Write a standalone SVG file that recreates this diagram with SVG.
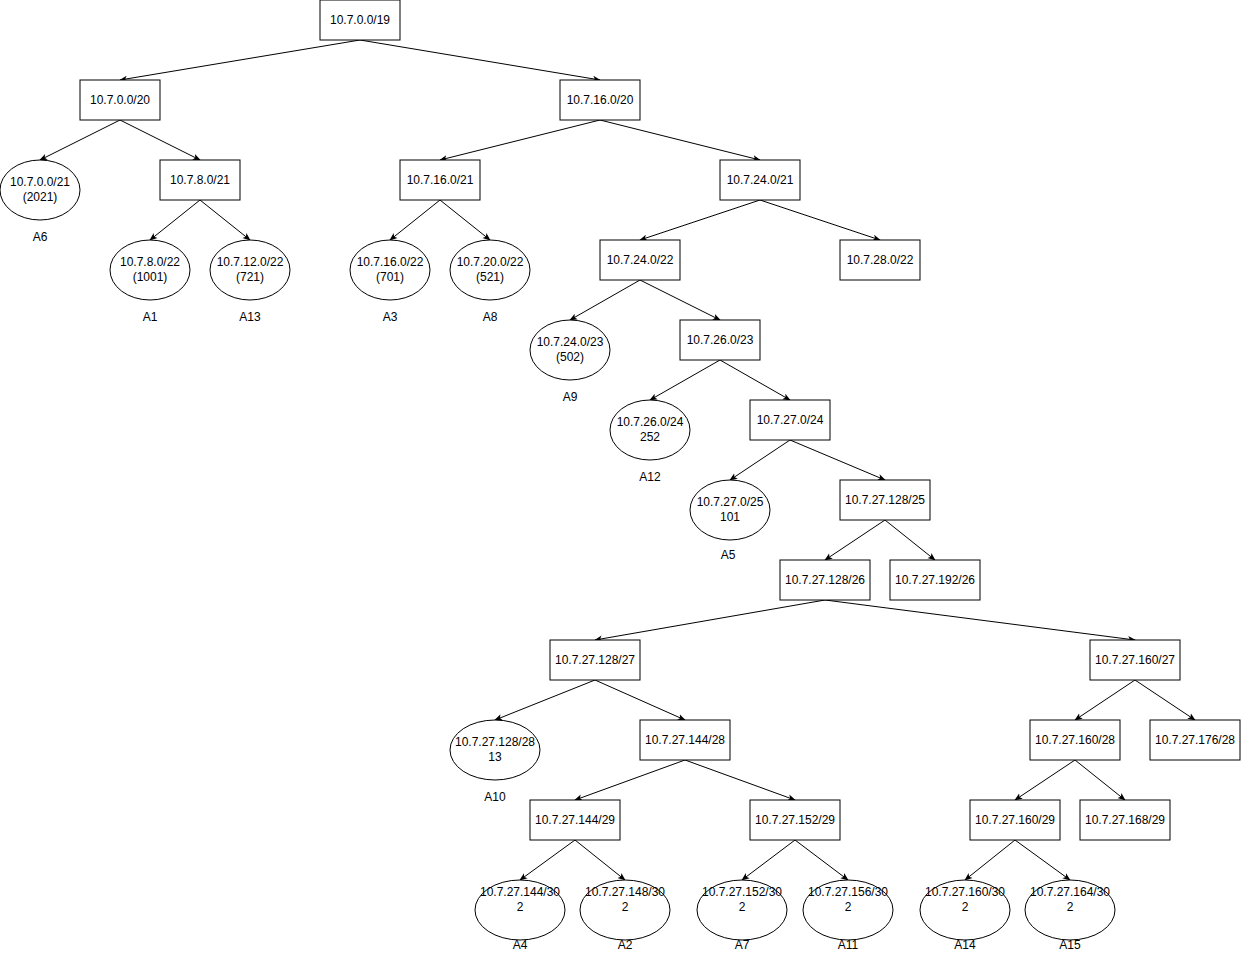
<svg xmlns="http://www.w3.org/2000/svg" width="1241" height="962" viewBox="0 0 1241 962">
<style>
rect,ellipse{fill:#fff;stroke:#000;stroke-width:1}
text{font-family:"Liberation Sans",Arial,sans-serif;font-size:12px;fill:#000;text-anchor:middle}
.e line{stroke:#000;stroke-width:1;marker-end:url(#a)}
</style>
<defs><marker id="a" viewBox="0 0 10 10" refX="9" refY="5" markerWidth="8" markerHeight="8" orient="auto" markerUnits="userSpaceOnUse"><path d="M0,1 L10,5 L0,9 L2.5,5 Z" fill="#000"/></marker></defs>
<rect x="-10" y="-10" width="1261" height="982" fill="#fff" stroke="none"/>
<g class="e">
<line x1="360" y1="40" x2="120" y2="80"/><line x1="360" y1="40" x2="600" y2="80"/>
<line x1="120" y1="120" x2="40" y2="160"/><line x1="120" y1="120" x2="200" y2="160"/>
<line x1="200" y1="200" x2="150" y2="240"/><line x1="200" y1="200" x2="250" y2="240"/>
<line x1="600" y1="120" x2="440" y2="160"/><line x1="600" y1="120" x2="760" y2="160"/>
<line x1="440" y1="200" x2="390" y2="240"/><line x1="440" y1="200" x2="490" y2="240"/>
<line x1="760" y1="200" x2="640" y2="240"/><line x1="760" y1="200" x2="880" y2="240"/>
<line x1="640" y1="280" x2="570" y2="320"/><line x1="640" y1="280" x2="720" y2="320"/>
<line x1="720" y1="360" x2="650" y2="400"/><line x1="720" y1="360" x2="790" y2="400"/>
<line x1="790" y1="440" x2="730" y2="480"/><line x1="790" y1="440" x2="885" y2="480"/>
<line x1="885" y1="520" x2="825" y2="560"/><line x1="885" y1="520" x2="935" y2="560"/>
<line x1="825" y1="600" x2="595" y2="640"/><line x1="825" y1="600" x2="1135" y2="640"/>
<line x1="595" y1="680" x2="495" y2="720"/><line x1="595" y1="680" x2="685" y2="720"/>
<line x1="685" y1="760" x2="575" y2="800"/><line x1="685" y1="760" x2="795" y2="800"/>
<line x1="575" y1="840" x2="520" y2="880"/><line x1="575" y1="840" x2="625" y2="880"/>
<line x1="795" y1="840" x2="742" y2="880"/><line x1="795" y1="840" x2="848" y2="880"/>
<line x1="1135" y1="680" x2="1075" y2="720"/><line x1="1135" y1="680" x2="1195" y2="720"/>
<line x1="1075" y1="760" x2="1015" y2="800"/><line x1="1075" y1="760" x2="1125" y2="800"/>
<line x1="1015" y1="840" x2="965" y2="880"/><line x1="1015" y1="840" x2="1070" y2="880"/>
</g>
<g id="n1"><rect x="320" y="0" width="80" height="40"/><text x="360" y="24">10.7.0.0/19</text></g>
<g id="n2"><rect x="80" y="80" width="80" height="40"/><text x="120" y="104">10.7.0.0/20</text></g>
<g id="n3"><rect x="560" y="80" width="80" height="40"/><text x="600" y="104">10.7.16.0/20</text></g>
<g id="n4"><ellipse cx="40" cy="190" rx="40" ry="30"/><text x="40" y="186">10.7.0.0/21</text><text x="40" y="201">(2021)</text><text x="40" y="241">A6</text></g>
<g id="n5"><rect x="160" y="160" width="80" height="40"/><text x="200" y="184">10.7.8.0/21</text></g>
<g id="n6"><ellipse cx="150" cy="270" rx="40" ry="30"/><text x="150" y="266">10.7.8.0/22</text><text x="150" y="281">(1001)</text><text x="150" y="321">A1</text></g>
<g id="n7"><ellipse cx="250" cy="270" rx="40" ry="30"/><text x="250" y="266">10.7.12.0/22</text><text x="250" y="281">(721)</text><text x="250" y="321">A13</text></g>
<g id="n8"><rect x="400" y="160" width="80" height="40"/><text x="440" y="184">10.7.16.0/21</text></g>
<g id="n9"><ellipse cx="390" cy="270" rx="40" ry="30"/><text x="390" y="266">10.7.16.0/22</text><text x="390" y="281">(701)</text><text x="390" y="321">A3</text></g>
<g id="n10"><ellipse cx="490" cy="270" rx="40" ry="30"/><text x="490" y="266">10.7.20.0/22</text><text x="490" y="281">(521)</text><text x="490" y="321">A8</text></g>
<g id="n11"><rect x="720" y="160" width="80" height="40"/><text x="760" y="184">10.7.24.0/21</text></g>
<g id="n12"><rect x="600" y="240" width="80" height="40"/><text x="640" y="264">10.7.24.0/22</text></g>
<g id="n13"><rect x="840" y="240" width="80" height="40"/><text x="880" y="264">10.7.28.0/22</text></g>
<g id="n14"><ellipse cx="570" cy="350" rx="40" ry="30"/><text x="570" y="346">10.7.24.0/23</text><text x="570" y="361">(502)</text><text x="570" y="401">A9</text></g>
<g id="n15"><rect x="680" y="320" width="80" height="40"/><text x="720" y="344">10.7.26.0/23</text></g>
<g id="n16"><ellipse cx="650" cy="430" rx="40" ry="30"/><text x="650" y="426">10.7.26.0/24</text><text x="650" y="441">252</text><text x="650" y="481">A12</text></g>
<g id="n17"><rect x="750" y="400" width="80" height="40"/><text x="790" y="424">10.7.27.0/24</text></g>
<g id="n18"><ellipse cx="730" cy="510" rx="40" ry="30"/><text x="730" y="506">10.7.27.0/25</text><text x="730" y="521">101</text><text x="728" y="559">A5</text></g>
<g id="n19"><rect x="840" y="480" width="90" height="40"/><text x="885" y="504">10.7.27.128/25</text></g>
<g id="n20"><rect x="780" y="560" width="90" height="40"/><text x="825" y="584">10.7.27.128/26</text></g>
<g id="n21"><rect x="890" y="560" width="90" height="40"/><text x="935" y="584">10.7.27.192/26</text></g>
<g id="n22"><rect x="550" y="640" width="90" height="40"/><text x="595" y="664">10.7.27.128/27</text></g>
<g id="n23"><rect x="1090" y="640" width="90" height="40"/><text x="1135" y="664">10.7.27.160/27</text></g>
<g id="n24"><ellipse cx="495" cy="750" rx="45" ry="30"/><text x="495" y="746">10.7.27.128/28</text><text x="495" y="761">13</text><text x="495" y="801">A10</text></g>
<g id="n25"><rect x="640" y="720" width="90" height="40"/><text x="685" y="744">10.7.27.144/28</text></g>
<g id="n26"><rect x="1030" y="720" width="90" height="40"/><text x="1075" y="744">10.7.27.160/28</text></g>
<g id="n27"><rect x="1150" y="720" width="90" height="40"/><text x="1195" y="744">10.7.27.176/28</text></g>
<g id="n28"><rect x="530" y="800" width="90" height="40"/><text x="575" y="824">10.7.27.144/29</text></g>
<g id="n29"><rect x="750" y="800" width="90" height="40"/><text x="795" y="824">10.7.27.152/29</text></g>
<g id="n30"><rect x="970" y="800" width="90" height="40"/><text x="1015" y="824">10.7.27.160/29</text></g>
<g id="n31"><rect x="1080" y="800" width="90" height="40"/><text x="1125" y="824">10.7.27.168/29</text></g>
<g id="n32"><ellipse cx="520" cy="910" rx="45" ry="30"/><text x="520" y="896">10.7.27.144/30</text><text x="520" y="911">2</text><text x="520" y="949">A4</text></g>
<g id="n33"><ellipse cx="625" cy="910" rx="45" ry="30"/><text x="625" y="896">10.7.27.148/30</text><text x="625" y="911">2</text><text x="625" y="949">A2</text></g>
<g id="n34"><ellipse cx="742" cy="910" rx="45" ry="30"/><text x="742" y="896">10.7.27.152/30</text><text x="742" y="911">2</text><text x="742" y="949">A7</text></g>
<g id="n35"><ellipse cx="848" cy="910" rx="45" ry="30"/><text x="848" y="896">10.7.27.156/30</text><text x="848" y="911">2</text><text x="848" y="949">A11</text></g>
<g id="n36"><ellipse cx="965" cy="910" rx="45" ry="30"/><text x="965" y="896">10.7.27.160/30</text><text x="965" y="911">2</text><text x="965" y="949">A14</text></g>
<g id="n37"><ellipse cx="1070" cy="910" rx="45" ry="30"/><text x="1070" y="896">10.7.27.164/30</text><text x="1070" y="911">2</text><text x="1070" y="949">A15</text></g>
</svg>
